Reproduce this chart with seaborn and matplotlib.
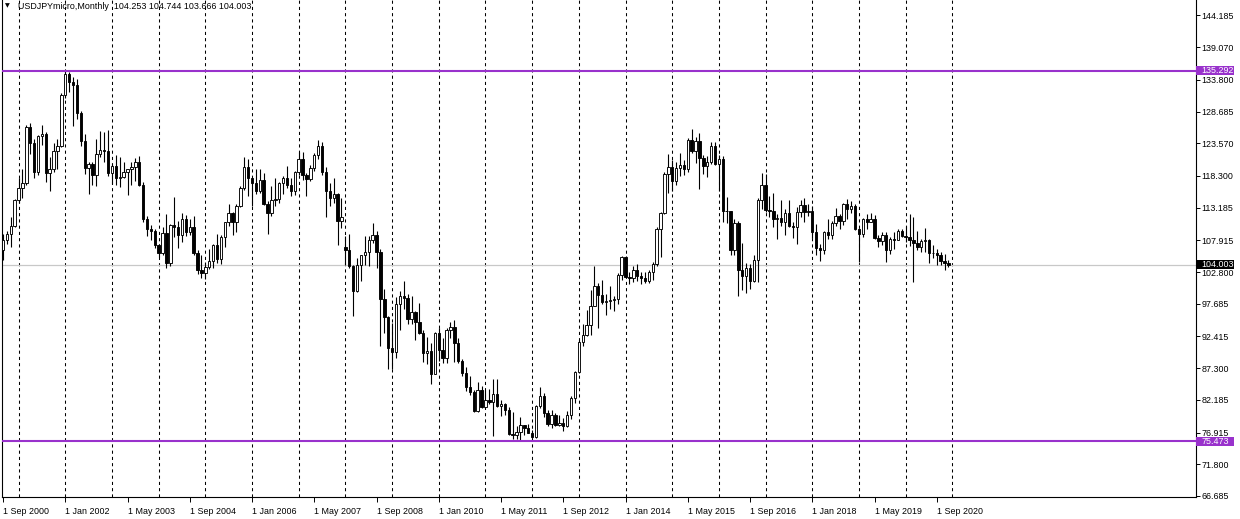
import matplotlib
matplotlib.use('Agg')
import matplotlib.pyplot as plt
import matplotlib.transforms as mtransforms
from matplotlib.patches import Rectangle
import numpy as np
import pandas as pd
import seaborn as sns

# Chart data (monthly USDJPY candles, Sep 2000 .. Dec 2020)
symbol_title = 'USDJPYmicro,Monthly'
first_month = '2000-09-01'

opens = [
    106.4, 108.0, 108.9, 110.3,
    114.4, 116.4, 117.2, 126.2, 123.6, 119.0, 124.7, 125.0, 118.8, 119.4, 122.4, 123.2,
    131.4, 134.8, 133.4, 132.9, 128.4, 124.0, 119.6, 120.2, 118.4, 121.8, 122.5, 122.3,
    118.7, 119.9, 118.0, 118.1, 119.0, 119.4, 119.8, 120.5, 116.8, 111.4, 109.8, 109.5,
    107.2, 105.9, 109.1, 104.2, 110.4, 110.1, 108.8, 111.4, 109.2, 110.1, 105.8, 103.1,
    102.6, 103.6, 104.6, 107.2, 104.9, 108.5, 110.8, 112.4, 110.8, 113.4, 116.4, 119.7,
    117.9, 117.2, 115.9, 117.7, 113.8, 112.4, 114.4, 114.6, 117.2, 118.0, 116.9, 115.8,
    119.0, 121.0, 118.5, 117.8, 119.6, 121.7, 123.2, 118.9, 115.8, 114.8, 115.4, 111.1,
    106.9, 106.4, 103.8, 99.7, 104.0, 105.5, 106.1, 107.9, 108.8, 106.1, 98.4, 95.5,
    90.6, 89.9, 97.6, 98.9, 98.6, 95.3, 96.4, 94.7, 93.0, 89.7, 90.1, 86.4,
    93.0, 90.3, 88.9, 93.4, 94.0, 91.3, 88.4, 86.5, 84.2, 83.5, 80.4, 83.7,
    81.1, 82.1, 81.8, 83.1, 81.2, 81.5, 80.5, 76.7, 76.6, 77.0, 78.1, 77.6,
    76.9, 76.2, 81.2, 82.8, 80.0, 78.3, 79.8, 78.1, 78.4, 77.9, 79.8, 82.5,
    86.7, 91.6, 92.6, 94.2, 97.4, 100.5, 99.1, 97.9, 98.2, 98.3, 98.4, 102.4,
    105.3, 102.0, 101.8, 103.2, 102.2, 101.8, 101.3, 102.8, 104.1, 109.7, 112.3, 118.6,
    119.8, 117.5, 119.6, 120.1, 119.4, 124.1, 122.4, 123.9, 121.2, 119.9, 120.6, 123.1,
    120.2, 121.1, 112.7, 112.6, 106.3, 110.7, 103.2, 102.1, 103.4, 101.3, 104.8, 114.4,
    116.9, 112.8, 112.7, 111.4, 111.5, 110.8, 112.4, 110.3, 110.0, 112.5, 113.6, 112.5,
    112.7, 109.2, 106.7, 106.3, 109.3, 108.8, 110.7, 111.9, 111.0, 113.7, 112.9, 113.5,
    109.7, 108.9, 111.4, 110.9, 111.4, 108.3, 107.8, 108.7, 106.3, 108.1, 108.0, 109.5,
    108.6, 108.4, 107.9, 107.5, 106.9, 107.8, 107.9, 105.8, 105.9, 105.5, 104.6, 104.253,
]
highs = [
    109.0, 109.5, 111.6, 114.6,
    118.0, 119.5, 126.5, 126.8, 124.3, 124.9, 126.5, 125.4, 121.4, 123.6, 124.2, 131.6,
    135.292, 135.1, 134.2, 133.9, 128.8, 125.0, 120.5, 120.5, 124.2, 125.6, 125.4, 125.7,
    120.2, 121.6, 121.3, 120.6, 119.5, 120.6, 121.2, 121.5, 117.4, 111.9, 110.4, 109.8,
    107.4, 110.0, 112.2, 110.5, 114.9, 111.0, 112.3, 112.0, 111.4, 111.9, 106.3, 105.5,
    104.4, 106.6, 107.4, 108.9, 108.7, 110.9, 113.7, 112.5, 113.7, 116.6, 121.4, 121.0,
    118.0, 119.5, 119.5, 118.7, 114.2, 116.6, 117.9, 117.4, 118.3, 119.9, 118.0, 119.1,
    122.2, 122.2, 118.7, 120.0, 122.0, 124.1, 123.7, 119.8, 117.1, 117.9, 115.5, 114.7,
    108.6, 108.9, 104.0, 105.0, 105.5, 108.6, 108.6, 110.7, 109.4, 106.5, 100.1, 95.7,
    94.6, 98.8, 99.7, 101.4, 99.2, 98.9, 96.5, 97.8, 93.4, 92.3, 91.3, 93.1,
    93.8, 92.1, 93.8, 94.7, 95.0, 92.1, 88.7, 87.5, 86.0, 83.8, 85.0, 84.5,
    83.7, 84.0, 85.5, 85.5, 82.2, 81.7, 81.0, 80.2, 77.9, 79.5, 78.2, 78.3,
    77.4, 81.3, 84.2, 83.3, 80.5, 80.6, 80.0, 79.7, 79.2, 80.4, 82.8, 86.8,
    91.8, 94.4, 96.7, 99.9, 103.7, 101.0, 101.5, 99.2, 100.6, 99.0, 102.6, 105.4,
    105.4, 102.8, 103.8, 104.1, 102.8, 102.8, 103.1, 104.5, 110.1, 112.5, 119.0, 121.8,
    120.8, 120.5, 122.0, 120.8, 124.5, 125.9, 124.6, 125.3, 121.7, 121.5, 123.8, 123.7,
    121.7, 121.5, 114.9, 112.7, 111.4, 111.0, 107.5, 104.3, 104.1, 105.5, 114.8, 118.7,
    118.6, 115.0, 115.5, 112.2, 114.4, 113.0, 114.5, 110.9, 113.3, 114.5, 114.7, 113.8,
    113.4, 110.5, 107.3, 109.5, 111.4, 111.0, 113.2, 112.2, 114.0, 114.6, 114.2, 113.8,
    109.9, 111.5, 112.1, 112.4, 112.0, 108.8, 109.3, 109.3, 108.5, 109.3, 109.7, 109.7,
    110.3, 112.2, 111.7, 109.4, 108.1, 109.9, 108.2, 107.1, 106.6, 106.1, 105.7, 104.744,
]
lows = [
    104.8, 107.3, 106.8, 110.0,
    113.9, 114.8, 116.9, 121.9, 117.9, 118.4, 123.3, 117.4, 115.8, 119.0, 119.4, 123.0,
    130.9, 131.9, 126.4, 127.5, 123.2, 118.6, 115.4, 116.8, 116.6, 121.3, 120.5, 118.3,
    117.0, 116.9, 116.5, 117.9, 115.3, 116.9, 117.5, 116.6, 110.9, 108.6, 107.9, 106.7,
    105.2, 105.5, 103.4, 103.7, 108.4, 106.7, 107.7, 108.6, 108.8, 105.6, 102.5, 101.8,
    101.7, 103.3, 103.5, 104.3, 104.1, 106.9, 110.2, 108.8, 109.3, 113.3, 116.0, 115.0,
    113.4, 115.4, 115.5, 113.6, 108.9, 111.9, 113.4, 113.9, 115.4, 116.3, 115.1, 115.2,
    118.5, 117.6, 115.1, 117.5, 119.1, 121.1, 118.5, 111.6, 113.5, 113.9, 107.2, 109.9,
    104.0, 103.5, 95.7, 99.6, 101.4, 103.9, 103.8, 107.5, 103.5, 90.9, 92.9, 87.1,
    87.1, 89.0, 93.5, 96.8, 94.4, 94.5, 91.8, 92.8, 88.3, 88.0, 84.8, 86.3,
    88.5, 88.1, 88.1, 92.2, 88.3, 88.2, 86.1, 83.6, 82.9, 80.2, 80.3, 80.9,
    80.9, 81.5, 76.3, 81.1, 79.6, 79.7, 76.6, 75.9, 75.9, 75.473, 76.6, 76.8,
    76.0, 76.1, 80.9, 79.5, 78.0, 77.6, 77.9, 77.9, 77.1, 77.8, 79.1, 81.7,
    86.5, 90.8, 92.5, 92.6, 97.3, 93.8, 97.6, 95.8, 96.9, 96.6, 97.6, 101.6,
    101.8, 100.8, 101.2, 101.4, 100.8, 101.1, 101.1, 101.5, 103.8, 105.2, 112.2, 115.6,
    115.9, 116.9, 118.3, 118.5, 118.9, 122.0, 120.4, 116.2, 118.6, 118.1, 120.2, 120.1,
    115.9, 110.9, 110.7, 105.5, 105.5, 98.9, 99.9, 99.5, 100.1, 101.2, 101.2, 112.9,
    112.5, 111.6, 110.1, 108.1, 110.2, 108.8, 110.0, 108.3, 107.3, 111.7, 110.8, 111.9,
    108.3, 105.6, 104.6, 105.7, 108.1, 108.1, 110.3, 109.8, 110.4, 111.4, 112.3, 109.6,
    104.5, 108.5, 109.7, 110.8, 108.2, 106.8, 107.2, 104.5, 105.7, 106.5, 107.9, 108.4,
    107.7, 107.0, 101.2, 106.4, 106.0, 106.1, 104.2, 105.1, 104.0, 104.0, 103.2, 103.666,
]
closes = [
    108.0, 108.9, 110.3, 114.4,
    116.4, 117.2, 126.2, 123.6, 119.0, 124.7, 125.0, 118.8, 119.4, 122.4, 123.2, 131.4,
    134.8, 133.4, 132.9, 128.4, 124.0, 119.6, 120.2, 118.4, 121.8, 122.5, 122.3, 118.7,
    119.9, 118.0, 118.1, 119.0, 119.4, 119.8, 120.5, 116.8, 111.4, 109.8, 109.5, 107.2,
    105.9, 109.1, 104.2, 110.4, 110.1, 108.8, 111.4, 109.2, 110.1, 105.8, 103.1, 102.6,
    103.6, 104.6, 107.2, 104.9, 108.5, 110.8, 112.4, 110.8, 113.4, 116.4, 119.7, 117.9,
    117.2, 115.9, 117.7, 113.8, 112.4, 114.4, 114.6, 117.2, 118.0, 116.9, 115.8, 119.0,
    121.0, 118.5, 117.8, 119.6, 121.7, 123.2, 118.9, 115.8, 114.8, 115.4, 111.1, 111.7,
    106.4, 103.8, 99.7, 104.0, 105.5, 106.1, 107.9, 108.8, 106.1, 98.4, 95.5, 90.6,
    89.9, 97.6, 98.9, 98.6, 95.3, 96.4, 94.7, 93.0, 89.7, 90.1, 86.4, 93.0,
    90.3, 88.9, 93.4, 94.0, 91.3, 88.4, 86.5, 84.2, 83.5, 80.4, 83.7, 81.1,
    82.1, 81.8, 83.1, 81.2, 81.5, 80.5, 76.7, 76.6, 77.0, 78.1, 77.6, 76.9,
    76.2, 81.2, 82.8, 80.0, 78.3, 79.8, 78.1, 78.4, 77.9, 79.8, 82.5, 86.7,
    91.6, 92.6, 94.2, 97.4, 100.5, 99.1, 97.9, 98.2, 98.3, 98.4, 102.4, 105.3,
    102.0, 101.8, 103.2, 102.2, 101.8, 101.3, 102.8, 104.1, 109.7, 112.3, 118.6, 119.8,
    117.5, 119.6, 120.1, 119.4, 124.1, 122.4, 123.9, 121.2, 119.9, 120.6, 123.1, 120.2,
    121.1, 112.7, 112.6, 106.3, 110.7, 103.2, 102.1, 103.4, 101.3, 104.8, 114.4, 116.9,
    112.8, 112.7, 111.4, 111.5, 110.8, 112.4, 110.3, 110.0, 112.5, 113.6, 112.5, 112.7,
    109.2, 106.7, 106.3, 109.3, 108.8, 110.7, 111.9, 111.0, 113.7, 112.9, 113.5, 109.7,
    108.9, 111.4, 110.9, 111.4, 108.3, 107.8, 108.7, 106.3, 108.1, 108.0, 109.5, 108.6,
    108.4, 107.9, 107.5, 106.9, 107.8, 107.9, 105.8, 105.9, 105.5, 104.6, 104.253, 104.003,
]

x_tick_labels = ['1 Sep 2000', '1 Jan 2002', '1 May 2003', '1 Sep 2004', '1 Jan 2006',
                 '1 May 2007', '1 Sep 2008', '1 Jan 2010', '1 May 2011', '1 Sep 2012',
                 '1 Jan 2014', '1 May 2015', '1 Sep 2016', '1 Jan 2018', '1 May 2019',
                 '1 Sep 2020']
y_tick_values = [66.685, 71.800, 76.915, 82.185, 87.300, 92.415, 97.685, 102.800,
                 107.915, 113.185, 118.300, 123.570, 128.685, 133.800, 139.070, 144.185]

resistance_level = 135.292
support_level = 75.473

LEVEL_COLOR = '#9932CC'
FONT_SIZE = 6.4

# Style
sns.set_style('white')
plt.rcParams['font.family'] = ['Liberation Sans', 'DejaVu Sans']
plt.rcParams['text.color'] = 'black'
plt.rcParams['xtick.color'] = 'black'
plt.rcParams['ytick.color'] = 'black'

# Build the frame
df = pd.DataFrame({'open': opens, 'high': highs, 'low': lows, 'close': closes})
df['month'] = pd.date_range(first_month, periods=len(df), freq='MS')
df['idx'] = np.arange(len(df))
df['bull'] = df['close'] >= df['open']

# Grid lines at each January (one extra month past the last bar)
all_months = pd.date_range(first_month, periods=len(df) + 1, freq='MS')
jan_idx = [i for i, m in enumerate(all_months) if m.month == 1]

# Positions of the date labels
label_months = pd.to_datetime(x_tick_labels, format='%d %b %Y')
label_idx = [all_months.get_loc(m) for m in label_months]

fig = plt.figure(figsize=(12.4, 5.19), dpi=100)
ax = fig.add_axes([2 / 1240, 22 / 519, 1193.5 / 1240, 497 / 519])
ax.set_facecolor('white')

for _j in jan_idx:
    ax.axvline(_j, color='black', lw=0.75, ls=(0, (3, 3)), zorder=1)

# Current price line
ax.axhline(closes[-1], color='#C8C8C8', lw=0.9, zorder=1.5)

# Candles: wicks then bodies
ax.vlines(df['idx'], df['low'], df['high'], color='black', lw=0.8, zorder=2)
_body_low = np.minimum(df['open'], df['close'])
_body_h = np.maximum((df['close'] - df['open']).abs(), 0.12)
ax.bar(df['idx'], _body_h, bottom=_body_low, width=0.62,
       color=np.where(df['bull'], 'white', 'black'), edgecolor='black',
       linewidth=0.65, zorder=3)

# Horizontal levels
ax.axhline(resistance_level, color=LEVEL_COLOR, lw=1.5, zorder=4)
ax.axhline(support_level, color=LEVEL_COLOR, lw=1.5, zorder=4)

ax.set_xlim(-0.26, 306.5)
ax.set_ylim(66.52, 146.68)

# Axes frame: MT4 style, no top border
for _name, _s in ax.spines.items():
    _s.set_color('black')
    _s.set_linewidth(0.8)
    _s.set_visible(_name != 'top')

# Ticks
ax.yaxis.tick_right()
ax.set_yticks(y_tick_values)
ax.set_yticklabels([f'{v:.3f}' for v in y_tick_values])
ax.set_xticks(label_idx)
ax.set_xticklabels(x_tick_labels, ha='left')
ax.tick_params(axis='y', which='both', left=False, right=True, labelright=True,
               labelleft=False, length=3, width=0.7, direction='out', pad=1.5,
               labelsize=FONT_SIZE)
ax.tick_params(axis='x', which='both', bottom=True, top=False, length=3.5, width=0.7,
               direction='out', pad=4, labelsize=FONT_SIZE)


def mDrawPriceTag(aValue, aColor):
    # Coloured tag on the price scale
    _trans = mtransforms.blended_transform_factory(ax.transAxes, ax.transData)
    _h = 9.5 / 6.2
    ax.add_patch(Rectangle((1.0008, aValue - _h / 2), 38 / 1193.5, _h, transform=_trans,
                           facecolor=aColor, edgecolor='none', clip_on=False, zorder=5))
    ax.text(1.0 + 5.5 / 1193.5, aValue, f'{aValue:.3f}', transform=_trans, color='white',
            fontsize=FONT_SIZE, ha='left', va='center', clip_on=False, zorder=6)


mDrawPriceTag(resistance_level, LEVEL_COLOR)
mDrawPriceTag(support_level, LEVEL_COLOR)
mDrawPriceTag(closes[-1], 'black')

# Header
fig.text(5 / 1240, 1 - 6 / 519, '\u25bc', fontsize=4.5, ha='left', va='center',
         family='DejaVu Sans')
fig.text(18 / 1240, 1 - 6.5 / 519,
         f'{symbol_title}  {opens[-1]:.3f} {highs[-1]:.3f} {lows[-1]:.3f} {closes[-1]:.3f}',
         fontsize=FONT_SIZE, ha='left', va='center')

fig.savefig('out.png', dpi=100)
